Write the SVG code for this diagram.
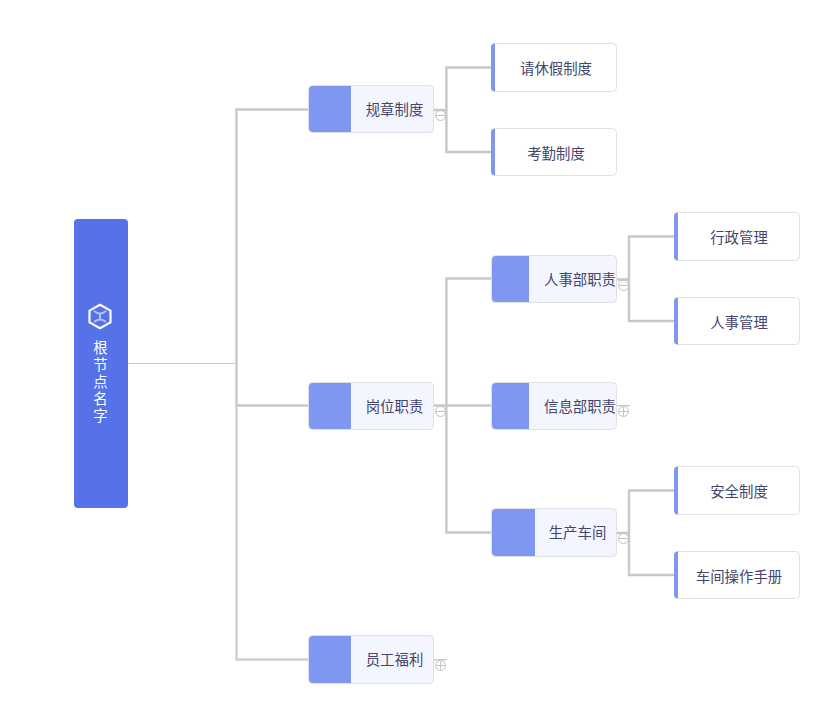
<svg xmlns="http://www.w3.org/2000/svg" width="836" height="707" viewBox="0 0 836 707">
<style>
text{font-family:"Noto Sans CJK SC","Liberation Sans",sans-serif;font-size:14.4px;fill:#45456b;text-anchor:middle}
.root{fill:#5572e8}
.root-t{fill:#fff}
.card{fill:#f4f6ff;stroke:#e0e0e6;stroke-width:1}
.leaf{fill:#fff;stroke:#e0e0e6;stroke-width:1}
.band{fill:#7f97f0}
.c{fill:none;stroke:#c8c8c8;stroke-width:2.4}
.c0{fill:none;stroke:#c8c8c8;stroke-width:1}
.c1{fill:none;stroke:#c8c8c8;stroke-width:1.4}
.tog{fill:#fff;fill-opacity:.6;stroke:#c4c4c4;stroke-width:1}
.togl{fill:none;stroke:#c4c4c4;stroke-width:1}
</style>
<defs>
<g id="minus"><circle class="tog" r="5"/><path class="togl" d="M-4.500 0H4.500"/></g>
<g id="plus"><circle class="tog" r="5"/><path class="togl" d="M-4.500 0H4.500M0-4.500V4.500"/></g>
</defs>
<rect width="836" height="707" fill="#fff"/>
<g id="connectors">
<path class="c0" d="M128 363.500H236"/>
<path class="c" d="M308 109.500H236.500V405.500H308"/>
<path class="c" d="M236.500 405.500V659.500H308" stroke-opacity=".85"/>
<path class="c" d="M434 110H446.400M491 67.500H446.400V152H491"/>
<path class="c" d="M434 405.500H491M491 278.500H446.400V532.500H491"/>
<path class="c" d="M617 279.500H629M674 236.500H629V321H674"/>
<path class="c1" d="M617 405.700H630"/>
<path class="c" d="M617 533H629M674 490.500H629V575H674"/>
<path class="c1" d="M434 659.700H447"/>
</g>
<g id="root">
<rect class="root" x="74" y="219" width="54" height="289" rx="4"/>
<path d="M100 304.800L110.500 310.600V322.400L100 328.200L89.500 322.400V310.600Z" fill="none" stroke="#fff" stroke-width="2.200" stroke-linejoin="round"/>
<path d="M94 311Q100 316 106 311M94 322Q100 317 106 322M100 314V319" fill="none" stroke="#b5c2f5" stroke-width="2"/>
<text class="root-t" x="100.500" y="353">根<tspan x="100.500" dy="17">节</tspan><tspan x="100.500" dy="17">点</tspan><tspan x="100.500" dy="17">名</tspan><tspan x="100.500" dy="17">字</tspan></text>
</g>
<g id="n-guizhang">
<rect class="card" x="308.500" y="85.500" width="125" height="47" rx="4"/>
<path class="band" d="M313 86H351V132H313A4 4 0 0 1 309 128V90A4 4 0 0 1 313 86Z"/>
<text x="394.500" y="115">规章制度</text>
<use href="#minus" x="440.500" y="115.500"/>
</g>
<g id="n-gangwei">
<rect class="card" x="308.500" y="382.500" width="125" height="47" rx="4"/>
<path class="band" d="M313 383H351V429H313A4 4 0 0 1 309 425V387A4 4 0 0 1 313 383Z"/>
<text x="394.500" y="412">岗位职责</text>
<use href="#minus" x="440.500" y="411.500"/>
</g>
<g id="n-yuangong">
<rect class="card" x="308.500" y="635.500" width="125" height="48" rx="4"/>
<path class="band" d="M313 636H351V683H313A4 4 0 0 1 309 679V640A4 4 0 0 1 313 636Z"/>
<text x="394.500" y="665">员工福利</text>
<use href="#plus" x="440.500" y="665.500"/>
</g>
<g id="n-qingjia">
<rect class="leaf" x="491.500" y="43.500" width="125" height="48" rx="4"/>
<path class="band" d="M495 43.500V91.500A4 4 0 0 1 491 87.500V47.500A4 4 0 0 1 495 43.500Z"/>
<text x="556" y="74">请休假制度</text>
</g>
<g id="n-kaoqin">
<rect class="leaf" x="491.500" y="128.500" width="125" height="47" rx="4"/>
<path class="band" d="M495 128.500V175.500A4 4 0 0 1 491 171.500V132.500A4 4 0 0 1 495 128.500Z"/>
<text x="556" y="159">考勤制度</text>
</g>
<g id="n-renshibu">
<rect class="card" x="491.500" y="255.500" width="125" height="47" rx="4"/>
<path class="band" d="M496 256H529V302H496A4 4 0 0 1 492 298V260A4 4 0 0 1 496 256Z"/>
<text x="580" y="285">人事部职责</text>
<use href="#minus" x="623.500" y="285.500"/>
</g>
<g id="n-xinxibu">
<rect class="card" x="491.500" y="382.500" width="125" height="47" rx="4"/>
<path class="band" d="M496 383H529V429H496A4 4 0 0 1 492 425V387A4 4 0 0 1 496 383Z"/>
<text x="580" y="412">信息部职责</text>
<use href="#plus" x="623.500" y="411.500"/>
</g>
<g id="n-shengchan">
<rect class="card" x="491.500" y="508.500" width="125" height="48" rx="4"/>
<path class="band" d="M496 509H535V556H496A4 4 0 0 1 492 552V513A4 4 0 0 1 496 509Z"/>
<text x="577.500" y="538">生产车间</text>
<use href="#minus" x="623.500" y="538.500"/>
</g>
<g id="n-xingzheng">
<rect class="leaf" x="674.500" y="212.500" width="125" height="48" rx="4"/>
<path class="band" d="M678 212.500V260.500A4 4 0 0 1 674 256.500V216.500A4 4 0 0 1 678 212.500Z"/>
<text x="739" y="243">行政管理</text>
</g>
<g id="n-renshi">
<rect class="leaf" x="674.500" y="297.500" width="125" height="47" rx="4"/>
<path class="band" d="M678 297.500V344.500A4 4 0 0 1 674 340.500V301.500A4 4 0 0 1 678 297.500Z"/>
<text x="739" y="328">人事管理</text>
</g>
<g id="n-anquan">
<rect class="leaf" x="674.500" y="466.500" width="125" height="48" rx="4"/>
<path class="band" d="M678 466.500V514.500A4 4 0 0 1 674 510.500V470.500A4 4 0 0 1 678 466.500Z"/>
<text x="739" y="497">安全制度</text>
</g>
<g id="n-chejian">
<rect class="leaf" x="674.500" y="551.500" width="125" height="47" rx="4"/>
<path class="band" d="M678 551.500V598.500A4 4 0 0 1 674 594.500V555.500A4 4 0 0 1 678 551.500Z"/>
<text x="739" y="582">车间操作手册</text>
</g>
</svg>
